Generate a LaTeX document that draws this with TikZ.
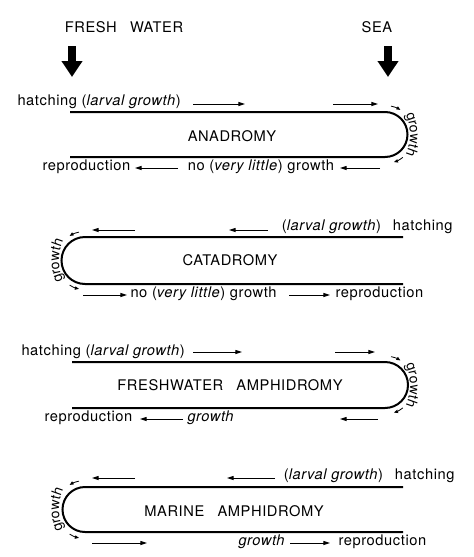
\documentclass[tikz,border=0pt]{standalone}
\usepackage{fontspec}
\setmainfont{TeX Gyre Heros}[LetterSpace=4]
\newfontfamily\arcfont{TeX Gyre Heros}
\usetikzlibrary{arrows.meta,decorations.text}

\newcommand{\wgap}{\hspace{0.9em}}

\tikzset{every picture/.style={line width=0.75pt}}
\tikzset{
  route/.style={line width=1.5pt},
  flow/.style={line width=0.7pt,-{Triangle[length=5pt,width=3pt]}},
  turn/.style={line width=0.6pt,-{Triangle[length=3pt,width=2.5pt]}},
  bigarrow/.style={line width=6pt,-{Triangle[length=12pt,width=15pt]}},
  lbl/.style={inner sep=0pt,font=\fontsize{11}{13}\selectfont},
  arclbl/.style={decorate,decoration={text along path,text align=center,
    text={|\arcfont\fontsize{10.5}{12}\selectfont|growth}}},
}

\begin{document}
\begin{tikzpicture}[x=0.75pt,y=0.75pt,yscale=-1,xscale=1]
\useasboundingbox (0,0) rectangle (474,557);

% Headings
\node[lbl] (fw) at (124,27) {FRESH\wgap WATER};
\node[lbl] (sea) at (377,27) {SEA};
\coordinate (fwtop) at (72,46);
\coordinate (fwend) at (72,77);
\coordinate (seatop) at (388,46);
\coordinate (seaend) at (388,77);
\draw[bigarrow] (fwtop) -- (fwend);
\draw[bigarrow] (seatop) -- (seaend);

% Anadromy
\draw[route] (70,112) -- (385,112) arc (-90:90:22.5) -- (70,157);
\node[lbl,anchor=west] (hatchA) at (17,102) {hatching (\textit{larval growth})};
\draw[flow] (193,104) -- (245,104);
\draw[flow] (333,104) -- (378,104);
\draw[turn] (385,134.5) ++(-78:29) arc (-78:-58:29);
\draw[turn] (385,134.5) ++(52:29) arc (52:72:29);
\path[arclbl] (360,134.5) ++(-25:50) arc (-25:25:50);
\node[lbl] (nameA) at (232,136) {ANADROMY};
\node[lbl,anchor=west] (reproA) at (42,167) {reproduction};
\draw[flow] (178,168) -- (135,168);
\node[lbl] (slowA) at (261,167) {no (\textit{very little}) growth};
\draw[flow] (380,168) -- (340,168);

% Catadromy
\draw[route] (403,237) -- (85,237) arc (270:90:23.5) -- (403,284);
\node[lbl,anchor=east] (hatchB) at (453,227) {(\textit{larval growth})\hspace{0.5em} hatching};
\draw[flow] (268,230) -- (229,230);
\draw[flow] (135,230) -- (92,230);
\draw[turn] (85,260.5) ++(258:29) arc (258:238:29);
\draw[turn] (85,260.5) ++(122:29) arc (122:102:29);
\path[arclbl] (109,260.5) ++(155:50) arc (155:205:50);
\node[lbl] (nameB) at (230,260) {CATADROMY};
\draw[flow] (83,295) -- (127,295);
\node[lbl,anchor=west] (slowB) at (130,294) {no (\textit{very little}) growth};
\draw[flow] (289,295) -- (330,295);
\node[lbl,anchor=west] (reproB) at (335,294) {reproduction};

% Freshwater amphidromy
\draw[route] (72,362) -- (385,362) arc (-90:90:23) -- (72,408);
\node[lbl,anchor=west] (hatchC) at (21,352) {hatching (\textit{larval growth})};
\draw[flow] (193,352) -- (242,352);
\draw[flow] (335,352) -- (375,352);
\draw[turn] (385,385) ++(-78:29) arc (-78:-58:29);
\draw[turn] (385,385) ++(52:29) arc (52:72:29);
\path[arclbl] (360,385) ++(-25:50) arc (-25:25:50);
\node[lbl] (nameC) at (230,385) {FRESHWATER\wgap AMPHIDROMY};
\node[lbl,anchor=west] (reproC) at (44,418) {reproduction};
\draw[flow] (183,419) -- (140,419);
\node[lbl,anchor=west] (growC) at (187,418) {\textit{growth}};
\draw[flow] (378,419) -- (340,419);

% Marine amphidromy
\draw[route] (403,487) -- (85,487) arc (270:90:22.5) -- (403,532);
\node[lbl,anchor=east] (hatchD) at (455,476) {(\textit{larval growth})\hspace{0.5em} hatching};
\draw[flow] (275,478) -- (227,478);
\draw[flow] (135,478) -- (92,478);
\draw[turn] (85,509.5) ++(258:29) arc (258:238:29);
\draw[turn] (85,509.5) ++(122:29) arc (122:102:29);
\path[arclbl] (109,509.5) ++(155:50) arc (155:205:50);
\node[lbl] (nameD) at (234,511) {MARINE\wgap AMPHIDROMY};
\draw[flow] (92,543) -- (147,543);
\node[lbl,anchor=west] (growD) at (238,542) {\textit{growth}};
\draw[flow] (290,543) -- (330,543);
\node[lbl,anchor=west] (reproD) at (338,542) {reproduction};

\end{tikzpicture}
\end{document}
